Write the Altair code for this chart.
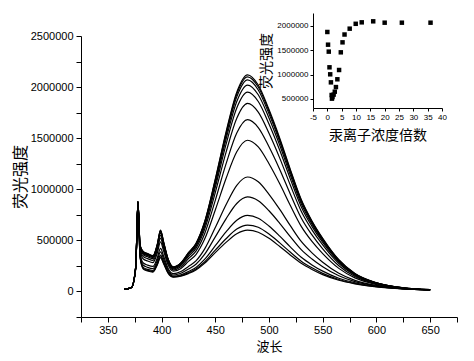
import altair as alt
import pandas as pd

# wavelength grid (nm)
wavelengths = [365, 372, 376, 378, 380, 383, 387, 392, 396, 399, 402, 406, 411, 418, 425, 432,
               440, 450, 460, 470, 480, 490, 500, 510, 520, 530, 540, 550, 565, 580, 600, 625, 650]

# fluorescence intensity of each spectrum, in thousands
c2120 = [20, 40, 250, 880, 450, 390, 370, 350, 460, 600, 480, 320, 240, 280, 380, 470, 680, 1100, 1560, 1950, 2120, 2020, 1780, 1500, 1190, 900, 690, 520, 310, 175, 85, 35, 17]
c2100 = [20, 40, 250, 880, 448, 388, 368, 348, 457, 597, 477, 318, 239, 278, 377, 467, 675, 1091, 1546, 1932, 2100, 2001, 1764, 1486, 1179, 892, 684, 515, 307, 174, 84, 35, 17]
c2070 = [20, 40, 249, 880, 446, 384, 364, 345, 453, 591, 473, 315, 237, 276, 373, 461, 667, 1076, 1524, 1904, 2070, 1972, 1738, 1465, 1162, 879, 674, 508, 303, 172, 84, 35, 17]
c2020 = [20, 40, 249, 879, 442, 379, 359, 339, 447, 582, 466, 311, 233, 271, 366, 453, 653, 1052, 1489, 1859, 2020, 1925, 1697, 1430, 1135, 859, 659, 497, 297, 168, 82, 34, 17]
c1950 = [20, 40, 248, 879, 437, 371, 351, 332, 438, 570, 457, 304, 229, 265, 357, 441, 635, 1019, 1439, 1795, 1950, 1859, 1639, 1381, 1097, 830, 637, 480, 288, 164, 81, 34, 17]
c1840 = [20, 40, 246, 878, 428, 359, 339, 321, 423, 550, 441, 294, 222, 256, 342, 422, 606, 968, 1361, 1695, 1840, 1755, 1548, 1305, 1036, 785, 603, 455, 273, 157, 78, 33, 17]
c1680 = [20, 40, 244, 877, 415, 341, 321, 304, 402, 522, 419, 280, 211, 242, 321, 395, 563, 892, 1248, 1550, 1681, 1604, 1416, 1194, 949, 719, 553, 417, 252, 146, 73, 32, 16]
c1480 = [20, 40, 242, 876, 400, 318, 298, 283, 376, 486, 392, 261, 198, 225, 294, 361, 510, 797, 1105, 1367, 1480, 1414, 1250, 1054, 839, 637, 490, 371, 226, 133, 68, 31, 16]
c1120 = [20, 40, 237, 873, 371, 278, 258, 245, 328, 422, 342, 228, 174, 195, 245, 299, 414, 626, 849, 1039, 1120, 1073, 951, 803, 641, 489, 378, 286, 178, 109, 59, 28, 16]
c925 = [20, 40, 234, 872, 356, 256, 236, 224, 303, 388, 315, 210, 161, 178, 219, 266, 362, 534, 711, 861, 925, 888, 790, 667, 534, 409, 317, 241, 153, 96, 54, 27, 15]
c745 = [20, 40, 232, 871, 341, 236, 216, 205, 279, 356, 290, 193, 150, 162, 195, 235, 314, 448, 583, 697, 744, 717, 640, 541, 434, 334, 260, 199, 129, 85, 49, 26, 15]
c650 = [20, 40, 231, 870, 334, 226, 206, 195, 267, 339, 277, 185, 143, 154, 182, 219, 288, 404, 516, 611, 650, 628, 562, 475, 383, 296, 231, 177, 117, 78, 46, 25, 15]
c600 = [20, 40, 230, 870, 330, 220, 200, 190, 260, 330, 270, 180, 140, 150, 175, 210, 275, 380, 480, 565, 600, 580, 520, 440, 355, 275, 215, 165, 110, 75, 45, 25, 15]

curves = {"c2120": c2120, "c2100": c2100, "c2070": c2070, "c2020": c2020, "c1950": c1950,
          "c1840": c1840, "c1680": c1680, "c1480": c1480, "c1120": c1120, "c925": c925,
          "c745": c745, "c650": c650, "c600": c600}

# inset: multiple of mercury ion concentration vs intensity (thousands)
inset_x = [0, 0.25, 0.5, 0.75, 1, 1.25, 1.5, 1.6, 1.8, 2.2, 2.6, 3, 3.5, 4.1, 4.7, 5.3, 6, 7.8, 9.9, 12, 16, 20, 26, 36]
inset_y = [1877, 1616, 1473, 1151, 1007, 842, 582, 507, 540, 590, 650, 745, 905, 1096, 1459, 1664, 1825, 1945, 2045, 2075, 2096, 2068, 2068, 2068]

rows = []
for name, vals in curves.items():
    for w, v in zip(wavelengths, vals):
        rows.append({"curve": name, "wl": w, "val": v * 1000})
spec_df = pd.DataFrame(rows)
inset_df = pd.DataFrame({"x": inset_x, "y": [v * 1000 for v in inset_y]})

FONT = "Liberation Sans"
CJK = "Noto Sans CJK SC"

W, H = 376, 281

lines = alt.Chart(spec_df).mark_line(color="black", strokeWidth=1.2, interpolate="monotone").encode(
    x=alt.X("wl:Q", scale=alt.Scale(domain=[325, 675], nice=False, zero=False),
            axis=alt.Axis(title="波长", values=list(range(325, 676, 25)),
                          labelExpr="datum.value % 50 == 0 ? datum.label : ''",
                          format="d", titleFont=CJK, titleFontSize=13, titleFontWeight="normal",
                          titlePadding=5, labelFontSize=11, tickSize=5, labelPadding=2,
                          labelFlush=False)),
    y=alt.Y("val:Q", scale=alt.Scale(domain=[-250000, 2500000], nice=False, zero=False),
            axis=alt.Axis(title="荧光强度", values=list(range(-250000, 2500001, 250000)),
                          format="d",
                          labelExpr="datum.value >= 0 && datum.value % 500000 == 0 ? datum.label : ''",
                          titleFont=CJK, titleFontSize=16, titleFontWeight="normal",
                          titlePadding=2, labelFontSize=11, tickSize=5, labelPadding=3,
                          labelFlush=False)),
    detail="curve:N",
)

inset = alt.Chart(inset_df).mark_square(color="black", size=20, opacity=1).encode(
    x=alt.X("x:Q", scale=alt.Scale(domain=[-5, 40], range=[232, 361], nice=False, zero=False),
            axis=alt.Axis(title="汞离子浓度倍数", orient="bottom", offset=-209,
                          values=list(range(-5, 41, 5)),
                          labelExpr="datum.value < 0 ? '-' + abs(datum.value) : '' + datum.value",
                          titleFont=CJK, titleFontSize=14, titleFontWeight="normal",
                          titlePadding=7, labelFontSize=8, tickSize=3, labelPadding=2,
                          labelFlush=False, labelOverlap=False)),
    y=alt.Y("y:Q", scale=alt.Scale(domain=[315000, 2267000], range=[72, -23], nice=False, zero=False),
            axis=alt.Axis(title="荧光强度", orient="left", offset=-232,
                          values=[500000, 1000000, 1500000, 2000000], format="d",
                          titleFont=CJK, titleFontSize=14, titleFontWeight="normal",
                          titlePadding=3, labelFontSize=8, tickSize=3, labelPadding=2,
                          labelFlush=False, labelOverlap=False)),
)

chart = alt.layer(lines, inset).resolve_scale(x="independent", y="independent").resolve_axis(
    x="independent", y="independent"
).properties(
    width=W, height=H,
    autosize=alt.AutoSizeParams(type="none"),
    padding={"left": 73, "top": 28, "right": 7, "bottom": 36},
    background="white",
).configure_view(stroke=None).configure_axis(
    grid=False, domainColor="black", tickColor="black", labelColor="black", titleColor="black",
    labelFont=FONT, domainWidth=1, tickWidth=1,
)

chart.save("out.html", embed_options={"renderer": "svg", "actions": False})
